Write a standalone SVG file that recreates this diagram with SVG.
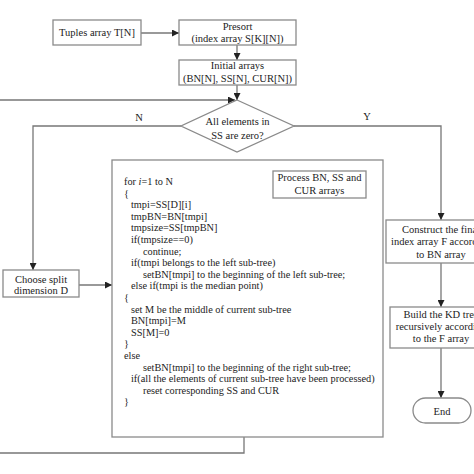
<svg xmlns="http://www.w3.org/2000/svg" width="474" height="474" viewBox="0 0 474 474">
<defs>
<marker id="ah" viewBox="0 0 10 10" refX="10" refY="5" markerWidth="7" markerHeight="7" markerUnits="userSpaceOnUse" orient="auto">
<path d="M0,0 L10,5 L0,10 z" fill="#222"/>
</marker>
<style>
.box{fill:#fff;stroke:#8a8a8a;stroke-width:1.3}
.ln{fill:none;stroke:#777;stroke-width:1.3}
.t{font-family:"Liberation Serif","Times New Roman",serif;font-size:10.5px;fill:#222;text-anchor:middle}
.c{font-family:"Liberation Serif","Times New Roman",serif;font-size:10.3px;fill:#222}
</style>
</defs>
<rect width="474" height="474" fill="#fff"/>
<g id="connectors">
<path class="ln" d="M141,33 H179" marker-end="url(#ah)"/>
<path class="ln" d="M237,45 V60" marker-end="url(#ah)"/>
<path class="ln" d="M237,85 V100" marker-end="url(#ah)"/>
<path class="ln" d="M244,437 V453 H-3 V100 H235" marker-end="url(#ah)"/>
<path class="ln" d="M181,126 H33 V270" marker-end="url(#ah)"/>
<path class="ln" d="M294,126 H441 V220" marker-end="url(#ah)"/>
<path class="ln" d="M79,285 H112" marker-end="url(#ah)"/>
<path class="ln" d="M441,263 V307" marker-end="url(#ah)"/>
<path class="ln" d="M441,348 V398" marker-end="url(#ah)"/>
<text class="t" x="139" y="121">N</text>
<text class="t" x="367" y="120">Y</text>
</g>
<g id="tuples">
<rect class="box" x="53" y="20" width="88" height="25"/>
<text class="t" x="97" y="36">Tuples array T[N]</text>
</g>
<g id="presort">
<rect class="box" x="179" y="20" width="117" height="25"/>
<text class="t" x="237.5" y="29.5">Presort</text>
<text class="t" x="237.5" y="42">(index array S[K][N])</text>
</g>
<g id="initial">
<rect class="box" x="179" y="60" width="117" height="25"/>
<text class="t" x="237.5" y="69">Initial arrays</text>
<text class="t" x="237.5" y="81.5">(BN[N], SS[N], CUR[N])</text>
</g>
<g id="decision">
<polygon class="box" points="237,100 294,126 237,152 181,126"/>
<text class="t" x="237.5" y="125">All elements in</text>
<text class="t" x="237.5" y="139">SS are zero?</text>
</g>
<g id="choose">
<rect class="box" x="3" y="270" width="76" height="27"/>
<text class="t" x="41" y="282.5">Choose split</text>
<text class="t" x="41" y="294">dimension D</text>
</g>
<g id="code">
<rect class="box" x="112" y="160" width="271" height="277"/>
<text class="c" x="124" y="185">for <tspan font-style="italic">i</tspan>=1 to N</text>
<text class="c" x="124" y="196.6">{</text>
<text class="c" x="131" y="208.2">tmpi=SS[D][i]</text>
<text class="c" x="131" y="219.8">tmpBN=BN[tmpi]</text>
<text class="c" x="131" y="231.4">tmpsize=SS[tmpBN]</text>
<text class="c" x="131" y="243">if(tmpsize==0)</text>
<text class="c" x="143" y="254.6">continue;</text>
<text class="c" x="131" y="266.2">if(tmpi belongs to the left sub-tree)</text>
<text class="c" x="143" y="277.8">setBN[tmpi] to the beginning of the left sub-tree;</text>
<text class="c" x="131" y="289.4">else if(tmpi is the median point)</text>
<text class="c" x="124" y="301">{</text>
<text class="c" x="131" y="312.6">set M be the middle of current sub-tree</text>
<text class="c" x="131" y="324.2">BN[tmpi]=M</text>
<text class="c" x="131" y="335.8">SS[M]=0</text>
<text class="c" x="124" y="347.4">}</text>
<text class="c" x="124" y="359">else</text>
<text class="c" x="143" y="370.6">setBN[tmpi] to the beginning of the right sub-tree;</text>
<text class="c" x="131" y="382.2">if(all the elements of current sub-tree have been processed)</text>
<text class="c" x="143" y="393.8">reset corresponding SS and CUR</text>
<text class="c" x="124" y="405.4">}</text>
</g>
<g id="process">
<rect class="box" x="273" y="171" width="93" height="27"/>
<text class="t" x="319.5" y="181">Process BN, SS and</text>
<text class="t" x="319.5" y="194">CUR arrays</text>
</g>
<g id="construct">
<rect class="box" x="386" y="220" width="110" height="43"/>
<text class="t" x="441" y="233">Construct the final</text>
<text class="t" x="441" y="245">index array F according</text>
<text class="t" x="441" y="258">to BN array</text>
</g>
<g id="build">
<rect class="box" x="390" y="307" width="102" height="41"/>
<text class="t" x="441" y="317.5">Build the KD tree</text>
<text class="t" x="441" y="329.5">recursively according</text>
<text class="t" x="441" y="341.5">to the F array</text>
</g>
<g id="end">
<rect class="box" x="413" y="398" width="58" height="25" rx="12.5"/>
<text class="t" x="442" y="414.5">End</text>
</g>
</svg>
